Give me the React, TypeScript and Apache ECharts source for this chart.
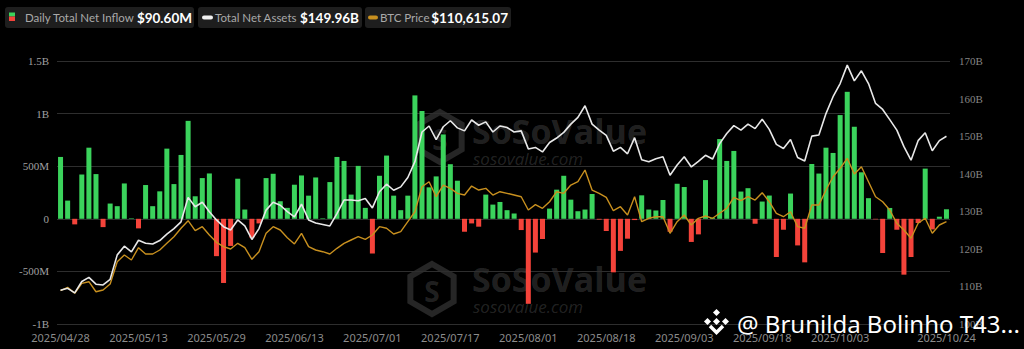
import React, { useEffect, useRef } from "react";
import * as echarts from "echarts";

const dates = [
  "2025/04/28","2025/04/29","2025/04/30","2025/05/01","2025/05/02",
  "2025/05/05","2025/05/06","2025/05/07","2025/05/08","2025/05/09",
  "2025/05/12","2025/05/13","2025/05/14","2025/05/15","2025/05/16",
  "2025/05/19","2025/05/20","2025/05/21","2025/05/22","2025/05/23",
  "2025/05/27","2025/05/28","2025/05/29","2025/05/30",
  "2025/06/02","2025/06/03","2025/06/04","2025/06/05","2025/06/06",
  "2025/06/09","2025/06/10","2025/06/11","2025/06/12","2025/06/13",
  "2025/06/16","2025/06/17","2025/06/18","2025/06/20",
  "2025/06/23","2025/06/24","2025/06/25","2025/06/26","2025/06/27",
  "2025/06/30","2025/07/01","2025/07/02","2025/07/03",
  "2025/07/07","2025/07/08","2025/07/09","2025/07/10","2025/07/11",
  "2025/07/14","2025/07/15","2025/07/16","2025/07/17","2025/07/18",
  "2025/07/21","2025/07/22","2025/07/23","2025/07/24","2025/07/25",
  "2025/07/28","2025/07/29","2025/07/30","2025/07/31","2025/08/01",
  "2025/08/04","2025/08/05","2025/08/06","2025/08/07","2025/08/08",
  "2025/08/11","2025/08/12","2025/08/13","2025/08/14","2025/08/15",
  "2025/08/18","2025/08/19","2025/08/20","2025/08/21","2025/08/22",
  "2025/08/25","2025/08/26","2025/08/27","2025/08/28","2025/08/29",
  "2025/09/02","2025/09/03","2025/09/04","2025/09/05",
  "2025/09/08","2025/09/09","2025/09/10","2025/09/11","2025/09/12",
  "2025/09/15","2025/09/16","2025/09/17","2025/09/18","2025/09/19",
  "2025/09/22","2025/09/23","2025/09/24","2025/09/25","2025/09/26",
  "2025/09/29","2025/09/30","2025/10/01","2025/10/02","2025/10/03",
  "2025/10/06","2025/10/07","2025/10/08","2025/10/09","2025/10/10",
  "2025/10/13","2025/10/14","2025/10/15","2025/10/16","2025/10/17",
  "2025/10/20","2025/10/21","2025/10/22","2025/10/23","2025/10/24",
];

// Daily total net inflow, in millions of USD
const inflowM = [
  588, 173, -53, 421, 676, 425, -79, 145, 120, 336,
  5, -91, 321, 120, 261, 667, 330, 607, 931, 214,
  387, 431, -355, -610, -258, 381, 88, -179, -44, 387,
  428, 167, 104, 324, 412, 220, 393, 5, 349, 588,
  550, 230, 503, 104, -330, 409, 601, 220, 82, 220,
  1173, 1025, 299, 403, 802, 519, 362, -123, -44, -75,
  230, 135, 160, 82, 50, -107, -808, -321, -192, 97,
  277, 409, 182, 72, 88, 236, -8, -116, -509, -305,
  -189, -12, 223, 88, 79, 179, -123, 333, 302, -220,
  -148, 368, 10, 758, 550, 645, 259, 291, -47, 164,
  221, -363, -104, 240, -253, -414, 521, 430, 676, 626,
  986, 1207, 875, 442, 196, -5, -325, 103, -104, -531,
  -363, -40, 477, -101, 20, 90.6,
];

// Total net assets, in billions of USD
const netAssetsB = [
  109.0, 109.5, 108.3, 111.3, 112.4, 110.6, 110.4, 111.9, 118.4, 120.7,
  119.2, 122.3, 121.5, 121.3, 122.2, 123.9, 125.4, 127.2, 133.7, 131.2,
  132.4, 129.9, 127.7, 125.9, 125.0, 127.7, 126.1, 122.5, 125.4, 130.3,
  132.4, 131.6, 129.9, 128.5, 131.9, 127.7, 126.9, 126.5, 126.1, 129.4,
  133.0, 133.0, 132.8, 133.4, 130.9, 135.2, 137.2, 135.6, 136.5, 139.0,
  143.2, 151.1, 152.7, 149.1, 152.5, 154.1, 152.2, 151.4, 154.3, 152.9,
  153.8, 151.1, 152.7, 152.3, 151.1, 151.4, 146.6, 147.0, 145.8, 148.3,
  149.5, 151.0, 153.2, 155.0, 158.1, 153.2, 151.6, 150.2, 146.0, 147.0,
  145.3, 149.6, 143.7, 143.2, 144.0, 144.5, 139.6, 142.3, 144.5, 141.8,
  143.3, 144.9, 143.9, 148.0, 150.7, 152.8, 151.6, 153.2, 152.0, 154.5,
  151.8, 147.8, 146.7, 149.1, 144.3, 143.4, 150.0, 150.3, 156.0, 160.5,
  164.0, 168.9, 164.7, 167.4, 164.0, 158.7, 157.1, 154.4, 151.6, 147.2,
  143.6, 148.8, 150.9, 146.1, 148.8, 149.96,
];

// BTC price, in thousands of USD
const btcPriceK = [
  94.75, 95.53, 94.15, 96.45, 96.82, 94.52, 94.91, 96.29, 101.42, 102.96,
  101.81, 104.64, 103.19, 103.19, 104.11, 105.65, 107.17, 109.10, 110.85, 108.55,
  109.47, 107.56, 105.88, 104.87, 104.34, 105.65, 104.64, 101.97, 103.72, 107.95,
  109.47, 108.71, 106.94, 105.5, 107.95, 104.87, 104.11, 103.72, 103.19, 104.50,
  105.65, 106.41, 107.17, 106.57, 107.56, 109.47, 109.10, 107.79, 108.32, 110.62,
  112.91, 118.66, 119.81, 116.36, 119.05, 118.29, 117.14, 116.75, 118.82, 117.90,
  118.29, 116.75, 117.51, 117.14, 116.75, 116.36, 113.30, 114.55, 113.70, 115.21,
  117.51, 117.14, 119.05, 119.81, 122.50, 117.90, 117.14, 116.22, 113.14, 114.06,
  112.16, 116.36, 110.62, 111.40, 111.76, 111.76, 107.95, 110.62, 112.16, 109.86,
  111.40, 111.93, 111.40, 112.55, 113.70, 116.2, 115.44, 116.36, 115.60, 117.28,
  115.21, 112.55, 111.76, 112.91, 109.47, 109.10, 114.45, 114.45, 117.90, 120.96,
  122.89, 125.19, 121.58, 123.26, 119.81, 116.36, 115.21, 113.30, 110.25, 108.71,
  106.80, 110.25, 111.40, 107.95, 109.86, 110.61507,
];

const legendNames = ["Daily Total Net Inflow", "Total Net Assets", "BTC Price"];

const GREEN = "#3bd35c";
const RED = "#f4433a";
const WHITE_LINE = "#e8e8e8";
const ORANGE = "#c8901f";

function fmtLeft(v: number): string {
  if (v === 0) return "0";
  if (Math.abs(v) >= 1000) return `${v / 1000}B`;
  return `${v}M`;
}

function withCommas(s: string): string {
  const [i, d] = s.split(".");
  return i.replace(/\B(?=(\d{3})+(?!\d))/g, ",") + (d ? "." + d : "");
}

function diamond(cx: number, cy: number, s: number) {
  return {
    type: "rect",
    x: cx,
    y: cy,
    rotation: Math.PI / 4,
    shape: { x: -s / 2, y: -s / 2, width: s, height: s },
    style: { fill: "#ffffff" },
    z: 100,
  };
}

function hexagon(cx: number, cy: number, r: number) {
  const pts: number[][] = [];
  for (let k = 0; k < 6; k++) {
    const a = (-90 + 60 * k) * (Math.PI / 180);
    pts.push([cx + r * Math.cos(a), cy + r * Math.sin(a)]);
  }
  return pts;
}

function watermark(iconCx: number, iconCy: number, tx: number, ty: number) {
  const c = "rgba(255,255,255,0.15)";
  return [
    {
      type: "polygon",
      shape: { points: hexagon(iconCx, iconCy, 25) },
      style: { fill: "none", stroke: c, lineWidth: 6 },
      z: 0,
    },
    {
      type: "text",
      x: iconCx,
      y: iconCy + 2,
      style: {
        text: "S",
        fill: c,
        fontSize: 28,
        fontWeight: "bold",
        fontFamily: "Open Sans",
        align: "center",
        verticalAlign: "middle",
      },
      z: 0,
    },
    {
      type: "text",
      x: tx,
      y: ty,
      style: {
        text: "SoSoValue",
        fill: c,
        fontSize: 34,
        fontWeight: "bold",
        fontFamily: "Open Sans",
        verticalAlign: "middle",
      },
      z: 0,
    },
    {
      type: "text",
      x: tx + 1,
      y: ty + 27,
      style: {
        text: "sosovalue.com",
        fill: c,
        fontSize: 17,
        fontStyle: "italic",
        fontFamily: "Open Sans",
        verticalAlign: "middle",
      },
      z: 0,
    },
  ];
}

export default function App() {
  const ref = useRef<HTMLDivElement>(null);

  useEffect(() => {
    document.body.style.margin = "0";
    document.body.style.background = "#000";
    if (!ref.current) return;
    const chart = echarts.init(ref.current, undefined, { renderer: "svg" });

    const lastInflow = inflowM[inflowM.length - 1];
    const lastAssets = netAssetsB[netAssetsB.length - 1];
    const lastBtc = btcPriceK[btcPriceK.length - 1];
    const inflowTxt = `$${lastInflow.toFixed(2)}M`;
    const assetsTxt = `$${lastAssets.toFixed(2)}B`;
    const btcTxt = `$${withCommas((lastBtc * 1000).toFixed(2))}`;

    const labelStyle = {
      fill: "#a9a9a9",
      fontSize: 11.5,
      fontFamily: "Lato",
      verticalAlign: "middle",
    };
    const valueStyle = {
      fill: "#ffffff",
      fontSize: 13.5,
      fontWeight: "bold",
      fontFamily: "Lato",
      verticalAlign: "middle",
      align: "right",
    };

    const legendGraphics: any[] = [
      { type: "rect", shape: { x: 5, y: 7, width: 189, height: 21, r: 3 }, style: { fill: "#1e1e1e" }, z: 50 },
      { type: "rect", shape: { x: 9, y: 12.5, width: 6, height: 4 }, style: { fill: GREEN }, z: 51 },
      { type: "rect", shape: { x: 9, y: 16.5, width: 6, height: 4.5 }, style: { fill: RED }, z: 51 },
      { type: "text", x: 25, y: 17.5, style: { ...labelStyle, text: legendNames[0] }, z: 51 },
      { type: "text", x: 192, y: 17.5, style: { ...valueStyle, text: inflowTxt }, z: 51 },

      { type: "rect", shape: { x: 198, y: 7, width: 164, height: 21, r: 3 }, style: { fill: "#1e1e1e" }, z: 50 },
      { type: "rect", shape: { x: 202, y: 15.5, width: 11, height: 4, r: 2 }, style: { fill: "#f0f0f0" }, z: 51 },
      { type: "text", x: 215, y: 17.5, style: { ...labelStyle, text: legendNames[1] }, z: 51 },
      { type: "text", x: 359, y: 17.5, style: { ...valueStyle, text: assetsTxt }, z: 51 },

      { type: "rect", shape: { x: 365, y: 7, width: 146, height: 21, r: 3 }, style: { fill: "#1e1e1e" }, z: 50 },
      { type: "rect", shape: { x: 368, y: 15.5, width: 10, height: 4, r: 2 }, style: { fill: ORANGE }, z: 51 },
      { type: "text", x: 380, y: 17.5, style: { ...labelStyle, text: legendNames[2] }, z: 51 },
      { type: "text", x: 508, y: 17.5, style: { ...valueStyle, text: btcTxt }, z: 51 },
    ];

    const overlay: any[] = [
      diamond(716.5, 312.5, 5),
      diamond(707.5, 321.5, 5),
      diamond(725.5, 321.5, 5),
      diamond(716.5, 321.5, 5),
      {
        type: "polyline",
        shape: { points: [[710, 326], [716.5, 332.5], [723, 326]] },
        style: { stroke: "#ffffff", lineWidth: 3.5, fill: "none" },
        z: 100,
      },
      {
        type: "text",
        x: 737,
        y: 323,
        style: {
          text: "@ Brunilda Bolinho T43...",
          fill: "#ffffff",
          fontSize: 24,
          fontFamily: "Noto Sans",
          verticalAlign: "middle",
        },
        z: 100,
      },
    ];

    const option: any = {
      animation: false,
      backgroundColor: "#000000",
      grid: { left: 57, right: 74, top: 61, bottom: 25, containLabel: false },
      xAxis: {
        type: "category",
        data: dates,
        boundaryGap: true,
        axisLine: { show: false },
        axisTick: { show: false },
        axisLabel: {
          color: "#8c8c8c",
          fontSize: 11,
          fontFamily: "Noto Sans",
          margin: 8,
          interval: (idx: number) => (idx % 11 === 0 && idx <= 110) || idx === dates.length - 1,
        },
        splitLine: { show: false },
      },
      yAxis: [
        {
          type: "value",
          min: -1000,
          max: 1500,
          interval: 500,
          position: "left",
          axisLine: { show: false },
          axisTick: { show: false },
          axisLabel: {
            color: "#a0a0a0",
            fontSize: 11,
            fontFamily: "Liberation Serif",
            margin: 8,
            formatter: fmtLeft,
          },
          splitLine: { show: true, lineStyle: { color: "#2e2e2e", width: 1 } },
        },
        {
          type: "value",
          min: 100,
          max: 170,
          interval: 10,
          position: "right",
          axisLine: { show: false },
          axisTick: { show: false },
          axisLabel: {
            color: "#858585",
            fontSize: 11,
            fontFamily: "Liberation Serif",
            margin: 9,
            formatter: (v: number) => `${v}B`,
          },
          splitLine: { show: false },
        },
        {
          type: "value",
          min: 87.1,
          max: 147.56,
          show: false,
          splitLine: { show: false },
        },
      ],
      series: [
        {
          name: legendNames[0],
          type: "bar",
          yAxisIndex: 0,
          data: inflowM,
          barWidth: 5,
          itemStyle: {
            color: (p: any) => (p.value >= 0 ? GREEN : RED),
          },
          z: 2,
        },
        {
          name: legendNames[2],
          type: "line",
          yAxisIndex: 2,
          data: btcPriceK,
          showSymbol: false,
          symbol: "none",
          lineStyle: { color: ORANGE, width: 1.4 },
          itemStyle: { color: ORANGE },
          z: 3,
        },
        {
          name: legendNames[1],
          type: "line",
          yAxisIndex: 1,
          data: netAssetsB,
          showSymbol: false,
          symbol: "none",
          lineStyle: { color: WHITE_LINE, width: 1.6 },
          itemStyle: { color: WHITE_LINE },
          z: 4,
        },
      ],
      graphic: [
        ...watermark(440, 137, 472, 131),
        ...watermark(432, 289, 472, 279),
        ...legendGraphics,
        ...overlay,
      ],
    };

    chart.setOption(option);
    return () => {
      chart.dispose();
    };
  }, []);

  return <div ref={ref} style={{ width: 1024, height: 349, background: "#000" }} />;
}
